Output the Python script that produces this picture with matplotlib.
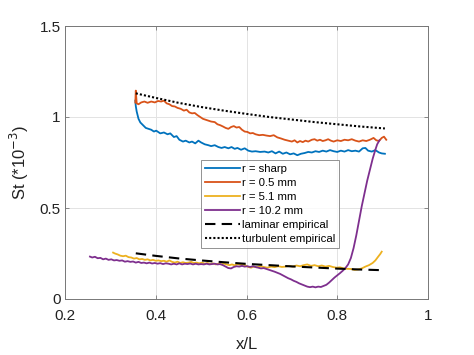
import matplotlib
matplotlib.use("Agg")
import matplotlib.pyplot as plt

plt.rcParams['font.family'] = ['Liberation Sans', 'DejaVu Sans']

# r = sharp
x_sharp = [0.355, 0.356, 0.358, 0.362, 0.366, 0.372, 0.378, 0.384, 0.390, 0.396, 0.401, 0.410, 0.418,
           0.426, 0.432, 0.440, 0.446, 0.452, 0.460, 0.466, 0.474, 0.480, 0.487, 0.494, 0.500, 0.508,
           0.516, 0.522, 0.530, 0.538, 0.545, 0.552, 0.560, 0.567, 0.574, 0.580, 0.588, 0.596, 0.604,
           0.612, 0.620, 0.630, 0.640, 0.648, 0.656, 0.664, 0.672, 0.680, 0.688, 0.696, 0.704, 0.712,
           0.720, 0.728, 0.736, 0.744, 0.752, 0.760, 0.768, 0.776, 0.784, 0.792, 0.800, 0.808, 0.816,
           0.824, 0.832, 0.840, 0.848, 0.856, 0.862, 0.868, 0.876, 0.884, 0.892, 0.898, 0.905]
y_sharp = [1.09, 1.06, 1.03, 0.99, 0.97, 0.955, 0.94, 0.935, 0.93, 0.92, 0.925, 0.91, 0.915,
           0.905, 0.91, 0.89, 0.895, 0.875, 0.865, 0.87, 0.86, 0.865, 0.855, 0.87, 0.86, 0.85,
           0.845, 0.84, 0.845, 0.835, 0.83, 0.835, 0.828, 0.835, 0.825, 0.83, 0.82, 0.828, 0.815,
           0.81, 0.812, 0.808, 0.81, 0.805, 0.812, 0.80, 0.81, 0.798, 0.805, 0.795, 0.80, 0.79,
           0.798, 0.802, 0.808, 0.805, 0.812, 0.808, 0.815, 0.81, 0.818, 0.812, 0.808, 0.815, 0.81,
           0.818, 0.812, 0.815, 0.81, 0.828, 0.83, 0.815, 0.81, 0.818, 0.805, 0.80, 0.798]

# r = 0.5 mm
x_05 = [0.355, 0.356, 0.358, 0.362, 0.368, 0.375, 0.382, 0.390, 0.398, 0.405, 0.412, 0.418, 0.424,
        0.430, 0.436, 0.442, 0.448, 0.455, 0.462, 0.468, 0.474, 0.480, 0.486, 0.492, 0.498, 0.504,
        0.510, 0.516, 0.522, 0.530, 0.536, 0.542, 0.548, 0.554, 0.560, 0.566, 0.572, 0.578, 0.584,
        0.590, 0.596, 0.602, 0.608, 0.614, 0.620, 0.628, 0.636, 0.644, 0.652, 0.660, 0.668, 0.676,
        0.684, 0.692, 0.700, 0.706, 0.712, 0.718, 0.724, 0.730, 0.736, 0.744, 0.750, 0.756, 0.762,
        0.768, 0.774, 0.780, 0.786, 0.792, 0.800, 0.808, 0.816, 0.824, 0.832, 0.840, 0.848, 0.856,
        0.864, 0.872, 0.880, 0.886, 0.892, 0.898, 0.903, 0.908]
y_05 = [1.08, 1.145, 1.075, 1.07, 1.08, 1.085, 1.078, 1.085, 1.08, 1.088, 1.085, 1.09, 1.075,
        1.07, 1.06, 1.058, 1.05, 1.045, 1.035, 1.04, 1.025, 1.02, 1.022, 1.01, 1.0, 0.99,
        0.985, 0.98, 0.975, 0.972, 0.96, 0.955, 0.948, 0.94, 0.935, 0.945, 0.95, 0.942, 0.945,
        0.93, 0.92, 0.918, 0.91, 0.912, 0.905, 0.90, 0.902, 0.898, 0.895, 0.90, 0.888, 0.882,
        0.875, 0.87, 0.865, 0.872, 0.86, 0.868, 0.862, 0.87, 0.865, 0.875, 0.878, 0.87, 0.875,
        0.868, 0.872, 0.878, 0.87, 0.865, 0.872, 0.868, 0.875, 0.872, 0.878, 0.87, 0.865, 0.872,
        0.868, 0.875, 0.885, 0.872, 0.868, 0.885, 0.892, 0.875]

# r = 5.1 mm
x_51 = [0.306, 0.310, 0.316, 0.322, 0.328, 0.334, 0.340, 0.346, 0.352, 0.358, 0.364, 0.370, 0.376,
        0.382, 0.388, 0.394, 0.400, 0.406, 0.412, 0.418, 0.424, 0.430, 0.436, 0.442, 0.448, 0.454,
        0.460, 0.466, 0.472, 0.478, 0.484, 0.490, 0.496, 0.502, 0.508, 0.514, 0.520, 0.526, 0.532,
        0.538, 0.544, 0.550, 0.556, 0.562, 0.568, 0.574, 0.580, 0.586, 0.592, 0.598, 0.604, 0.610,
        0.616, 0.622, 0.630, 0.638, 0.646, 0.654, 0.662, 0.670, 0.678, 0.686, 0.694, 0.702, 0.710,
        0.718, 0.726, 0.734, 0.742, 0.750, 0.758, 0.766, 0.774, 0.782, 0.790, 0.798, 0.806, 0.814,
        0.822, 0.830, 0.838, 0.846, 0.854, 0.862, 0.870, 0.878, 0.884, 0.890, 0.895, 0.898]
y_51 = [0.255, 0.25, 0.245, 0.238, 0.235, 0.238, 0.23, 0.228, 0.222, 0.225, 0.218, 0.22, 0.215,
        0.218, 0.212, 0.215, 0.21, 0.212, 0.208, 0.21, 0.205, 0.212, 0.204, 0.20, 0.205, 0.198,
        0.202, 0.198, 0.20, 0.204, 0.198, 0.20, 0.196, 0.20, 0.194, 0.198, 0.192, 0.196, 0.19,
        0.194, 0.19, 0.195, 0.19, 0.186, 0.19, 0.185, 0.192, 0.188, 0.19, 0.184, 0.176, 0.172,
        0.178, 0.174, 0.18, 0.176, 0.172, 0.178, 0.175, 0.18, 0.176, 0.178, 0.182, 0.178, 0.184,
        0.18, 0.186, 0.19, 0.182, 0.186, 0.18, 0.184, 0.178, 0.182, 0.176, 0.172, 0.174, 0.168,
        0.166, 0.165, 0.16, 0.162, 0.168, 0.178, 0.186, 0.198, 0.212, 0.232, 0.248, 0.26]

# r = 10.2 mm
x_102 = [0.255, 0.260, 0.266, 0.272, 0.278, 0.284, 0.290, 0.296, 0.302, 0.308, 0.314, 0.320, 0.326,
         0.332, 0.338, 0.344, 0.350, 0.356, 0.362, 0.368, 0.374, 0.380, 0.386, 0.392, 0.398, 0.404,
         0.410, 0.416, 0.422, 0.428, 0.434, 0.440, 0.446, 0.452, 0.458, 0.464, 0.470, 0.476, 0.482,
         0.488, 0.494, 0.500, 0.506, 0.512, 0.518, 0.524, 0.530, 0.536, 0.542, 0.548, 0.554, 0.560,
         0.566, 0.572, 0.578, 0.584, 0.590, 0.596, 0.602, 0.608, 0.614, 0.620, 0.626, 0.632, 0.638,
         0.644, 0.650, 0.656, 0.662, 0.668, 0.674, 0.680, 0.686, 0.692, 0.698, 0.704, 0.710, 0.716,
         0.722, 0.728, 0.734, 0.740, 0.746, 0.752, 0.758, 0.764, 0.770, 0.776, 0.782, 0.788, 0.794,
         0.800, 0.806, 0.812, 0.818, 0.824, 0.830, 0.836, 0.842, 0.848, 0.854, 0.860, 0.866, 0.872,
         0.878, 0.884, 0.888, 0.893]
y_102 = [0.233, 0.228, 0.232, 0.224, 0.226, 0.218, 0.222, 0.215, 0.218, 0.212, 0.214, 0.21, 0.212,
         0.205, 0.208, 0.204, 0.206, 0.20, 0.204, 0.198, 0.20, 0.196, 0.20, 0.195, 0.198, 0.194,
         0.197, 0.192, 0.196, 0.194, 0.19, 0.194, 0.19, 0.196, 0.19, 0.194, 0.192, 0.195, 0.19,
         0.194, 0.19, 0.192, 0.19, 0.194, 0.19, 0.192, 0.194, 0.19, 0.192, 0.186, 0.178, 0.17,
         0.168, 0.176, 0.18, 0.178, 0.182, 0.178, 0.18, 0.176, 0.18, 0.176, 0.172, 0.168, 0.17,
         0.165, 0.16, 0.155, 0.15, 0.144, 0.138, 0.13, 0.122, 0.114, 0.108, 0.10, 0.094, 0.086,
         0.08, 0.074, 0.068, 0.065, 0.068, 0.064, 0.068, 0.066, 0.072, 0.078, 0.09, 0.104, 0.118,
         0.13, 0.142, 0.155, 0.17, 0.19, 0.225, 0.28, 0.35, 0.43, 0.51, 0.58, 0.65, 0.71,
         0.77, 0.82, 0.85, 0.872]

# empirical correlations
x_lam = [0.356, 0.40, 0.45, 0.50, 0.55, 0.60, 0.65, 0.70, 0.75, 0.80, 0.85, 0.903]
y_lam = [0.251, 0.237, 0.223, 0.212, 0.202, 0.193, 0.186, 0.179, 0.173, 0.167, 0.162, 0.158]
x_turb = [0.356, 0.40, 0.45, 0.50, 0.55, 0.60, 0.65, 0.70, 0.75, 0.80, 0.85, 0.905]
y_turb = [1.13, 1.105, 1.078, 1.055, 1.035, 1.017, 1.0, 0.986, 0.972, 0.96, 0.948, 0.937]

fig = plt.figure(figsize=(4.74, 3.55), dpi=100)
ax = fig.add_axes([65 / 474, 56 / 355, 363 / 474, 273 / 355])

lw = 1.3
ax.plot(x_sharp, y_sharp, color='#0072BD', lw=lw, label='r = sharp')
ax.plot(x_05, y_05, color='#D95319', lw=lw, label='r = 0.5 mm')
ax.plot(x_51, y_51, color='#EDB120', lw=lw, label='r = 5.1 mm')
ax.plot(x_102, y_102, color='#7E2F8E', lw=lw, label='r = 10.2 mm')
ax.plot(x_lam, y_lam, color='black', lw=1.5, linestyle=(0, (5, 3)), label='laminar empirical')
ax.plot(x_turb, y_turb, color='black', lw=1.5, linestyle=(0, (1, 1)), label='turbulent empirical')

ax.set_xlim(0.2, 1)
ax.set_ylim(0, 1.5)
ax.set_xticks([0.2, 0.4, 0.6, 0.8, 1])
ax.set_xticklabels(['0.2', '0.4', '0.6', '0.8', '1'])
ax.set_yticks([0, 0.5, 1, 1.5])
ax.set_yticklabels(['0', '0.5', '1', '1.5'])
ax.grid(True, color='#e3e3e3', lw=0.7)
ax.set_axisbelow(True)
ax.tick_params(direction='in', length=3, width=0.6, colors='#777777', labelcolor='#222222',
               labelsize=11, top=True, right=True, pad=3)
ax.tick_params(axis='x', pad=7)
for s in ax.spines.values():
    s.set_color('#777777')
    s.set_linewidth(0.7)

ax.set_xlabel('x/L', fontsize=12, color='#222222', labelpad=10)
ax.set_ylabel('St (*10$^{-3}$)', fontsize=12, color='#222222', labelpad=6)

leg = ax.legend(loc='upper left', bbox_to_anchor=(0.376, 0.509), fontsize=8.2, frameon=True,
                fancybox=False, edgecolor='#777777', handlelength=3.0, handletextpad=0.2,
                labelspacing=0.35, borderpad=0.35, borderaxespad=0)
leg.get_frame().set_linewidth(0.7)

fig.savefig('out.png', dpi=100)
